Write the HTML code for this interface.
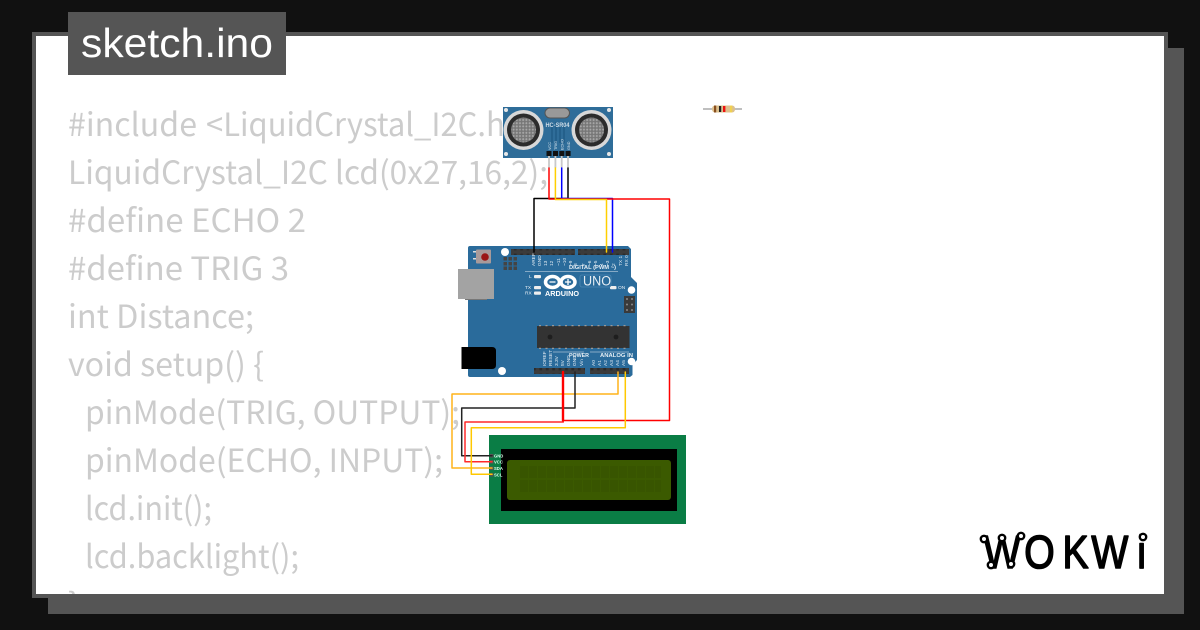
<!DOCTYPE html>
<html><head><meta charset="utf-8"><style>
html,body{margin:0;padding:0;background:#111;width:1200px;height:630px;overflow:hidden}
svg{display:block}
</style></head><body>
<svg xmlns="http://www.w3.org/2000/svg" width="1200" height="630" viewBox="0 0 1200 630">
<defs>
<clipPath id="panel"><rect x="36" y="36" width="1128" height="558"/></clipPath>
<pattern id="hdr" width="6.4" height="6" patternUnits="userSpaceOnUse"><rect width="6.4" height="6" fill="#3b3b3b"/><rect x="1.8" y="1.6" width="2.8" height="2.8" fill="#2a2a2a"/></pattern>
<pattern id="mesh" width="3.200" height="3.200" patternUnits="userSpaceOnUse"><rect width="3.200" height="3.200" fill="#777"/><circle cx="1.600" cy="1.600" r="1" fill="#a8a8a8"/></pattern>
</defs>
<rect width="1200" height="630" fill="#111"/>
<rect x="48" y="48" width="1136" height="566" fill="#555"/>
<rect x="32" y="32" width="1136" height="566" fill="#555"/>
<rect x="36" y="36" width="1128" height="558" fill="#fff"/>

<g clip-path="url(#panel)" font-family="'Noto Sans CJK JP','Liberation Sans',sans-serif" font-size="32" fill="#ccc">
<text x="68" y="136" textLength="129" lengthAdjust="spacingAndGlyphs">#include</text>
<text x="206" y="136" textLength="316" lengthAdjust="spacingAndGlyphs">&lt;LiquidCrystal_I2C.h&gt;</text>
<text x="68" y="184" textLength="480" lengthAdjust="spacingAndGlyphs">LiquidCrystal_I2C lcd(0x27,16,2);</text>
<text x="68" y="232" textLength="238" lengthAdjust="spacingAndGlyphs">#define ECHO 2</text>
<text x="68" y="280" textLength="221" lengthAdjust="spacingAndGlyphs">#define TRIG 3</text>
<text x="68" y="328" textLength="186" lengthAdjust="spacingAndGlyphs">int Distance;</text>
<text x="68" y="376" textLength="196" lengthAdjust="spacingAndGlyphs">void setup() {</text>
<text x="85" y="424" textLength="375" lengthAdjust="spacingAndGlyphs">pinMode(TRIG, OUTPUT);</text>
<text x="85" y="472" textLength="358" lengthAdjust="spacingAndGlyphs">pinMode(ECHO, INPUT);</text>
<text x="85" y="520" textLength="127" lengthAdjust="spacingAndGlyphs">lcd.init();</text>
<text x="85" y="568" textLength="214" lengthAdjust="spacingAndGlyphs">lcd.backlight();</text>
<text x="68" y="616">}</text>
</g>

<rect x="68" y="12" width="218" height="63" fill="#555"/>
<text x="81" y="57" font-family="'Liberation Sans',sans-serif" font-size="41" fill="#fff" textLength="192" lengthAdjust="spacingAndGlyphs">sketch.ino</text>

<!-- Resistor -->
<line x1="703" y1="109" x2="742" y2="109" stroke="#aaa" stroke-width="1.400"/>
<rect x="712" y="105.500" width="23" height="7" rx="3" fill="#dcc08e"/>
<rect x="714" y="105.500" width="2.200" height="7" fill="#8a4f1e"/>
<rect x="719" y="106" width="2.200" height="6" fill="#222"/>
<rect x="723" y="106" width="2.400" height="6" fill="#f01010"/>
<rect x="730" y="105.500" width="2.200" height="7" fill="#f0d050"/>

<!-- Ultrasonic sensor -->
<rect x="503" y="107" width="110" height="51" fill="#2f6d99"/>
<rect x="545" y="108" width="24.500" height="10" rx="5" fill="#999" stroke="#555" stroke-width="1"/>
<g fill="none" stroke="#1f5a85" stroke-width="1.400"><path d="M552 122V143"/><path d="M556 122V143"/><path d="M560 122V143"/><path d="M564 122V143"/></g>
<g>
<circle cx="523.500" cy="130" r="20" fill="#d8d8d8"/><circle cx="523.500" cy="130" r="16.500" fill="#2c2c2c"/><circle cx="523.500" cy="130" r="12.500" fill="url(#mesh)"/>
<circle cx="591.500" cy="130" r="20" fill="#d8d8d8"/><circle cx="591.500" cy="130" r="16.500" fill="#2c2c2c"/><circle cx="591.500" cy="130" r="12.500" fill="url(#mesh)"/>
</g>
<g fill="#e8e8e8"><circle cx="506" cy="110" r="2"/><circle cx="609" cy="110" r="2"/><circle cx="506" cy="154" r="2"/><circle cx="609" cy="154" r="2"/></g>
<text x="545.500" y="127" font-family="'Liberation Sans',sans-serif" font-size="6.500" font-weight="bold" fill="#cfdde8" textLength="24" lengthAdjust="spacingAndGlyphs">HC-SR04</text>
<g font-family="'Liberation Sans',sans-serif" font-size="3.800" fill="#dfe8ef">
<text transform="translate(551 150) rotate(-90)">VCC</text><text transform="translate(557 150) rotate(-90)">TRIG</text><text transform="translate(563.500 150) rotate(-90)">ECHO</text><text transform="translate(570 150) rotate(-90)">GND</text>
</g>
<rect x="546.500" y="151" width="5" height="5" fill="#111"/><rect x="553" y="151" width="5" height="5" fill="#111"/><rect x="559.300" y="151" width="5" height="5" fill="#111"/><rect x="565.600" y="151" width="5" height="5" fill="#111"/>
<g stroke="#c9c9c9" stroke-width="1.800"><path d="M549 156V168"/><path d="M555.400 156V168"/><path d="M561.700 156V168"/><path d="M568 156V168"/></g>

<!-- Arduino -->
<path d="M470 246H628L631 249V277L637 283V360L632.500 365V375L630 377H470Q468 377 468 375V248Q468 246 470 246Z" fill="#2a6b9b"/>
<rect x="458" y="269" width="36" height="30" fill="#a3a3a3"/><rect x="465" y="299" width="22" height="1" fill="#777"/>
<path d="M461.500 347H492Q496 347 496 351V365Q496 369 492 369H461.500Z" fill="#000"/>
<rect x="473" y="251" width="3" height="1.500" fill="#ddd"/><rect x="473" y="258" width="3" height="1.500" fill="#ddd"/>
<rect x="476" y="249.500" width="15" height="14" rx="1" fill="#a89a9a"/><circle cx="485" cy="257" r="3.800" fill="#9a1616"/>
<circle cx="505" cy="252" r="4" fill="#fff"/><circle cx="631.500" cy="290" r="3.800" fill="#fff"/><circle cx="502" cy="371" r="4" fill="#fff"/><circle cx="631.500" cy="361.500" r="3.800" fill="#fff"/>
<g fill="#444"><rect x="503.500" y="257" width="3.500" height="3.500"/><rect x="508.500" y="257" width="3.500" height="3.500"/><rect x="513.500" y="257" width="3.500" height="3.500"/><rect x="503.500" y="262" width="3.500" height="3.500"/><rect x="508.500" y="262" width="3.500" height="3.500"/><rect x="513.500" y="262" width="3.500" height="3.500"/><rect x="503.500" y="266.500" width="3.500" height="3.500"/><rect x="508.500" y="266.500" width="3.500" height="3.500"/><rect x="513.500" y="266.500" width="3.500" height="3.500"/></g>
<rect x="624" y="296" width="11" height="17" fill="#3a3a3a"/>
<g fill="#888"><circle cx="627" cy="299" r="1"/><circle cx="632" cy="299" r="1"/><circle cx="627" cy="304.500" r="1"/><circle cx="632" cy="304.500" r="1"/><circle cx="627" cy="310" r="1"/><circle cx="632" cy="310" r="1"/></g>
<rect x="511" y="249" width="64" height="6" fill="url(#hdr)"/><rect x="578" y="249" width="51" height="6" fill="url(#hdr)"/>
<rect x="534" y="368" width="51" height="6" fill="url(#hdr)"/><rect x="590" y="368" width="39" height="6" fill="url(#hdr)"/>
<rect x="537" y="326" width="92.500" height="22" fill="#333"/>
<g stroke="#999" stroke-width="1.200" stroke-dasharray="2 4.500" fill="none"><path d="M539 325.600H628"/><path d="M539 348.400H628"/></g>
<circle cx="550" cy="337" r="2.400" fill="#1e1e1e"/><circle cx="616" cy="337" r="2.400" fill="#1e1e1e"/>
<g font-family="'Liberation Sans',sans-serif" font-size="4.800" fill="#e6eef4">
<text transform="translate(535 266) rotate(-90)">AREF</text><text transform="translate(541 266) rotate(-90)">GND</text>
<text transform="translate(547 266) rotate(-90)">13</text><text transform="translate(553 266) rotate(-90)">12</text><text transform="translate(560 266) rotate(-90)">~11</text><text transform="translate(566 266) rotate(-90)">~10</text><text transform="translate(572 266) rotate(-90)">~9</text><text transform="translate(577 266) rotate(-90)">8</text>
<text transform="translate(585 266) rotate(-90)">7</text><text transform="translate(591 266) rotate(-90)">~6</text><text transform="translate(597 266) rotate(-90)">~5</text><text transform="translate(603 266) rotate(-90)">4</text><text transform="translate(609 266) rotate(-90)">~3</text><text transform="translate(615 266) rotate(-90)">2</text><text transform="translate(622 266) rotate(-90)">TX 1</text><text transform="translate(628 266) rotate(-90)">RX 0</text>
<text x="569" y="269" font-weight="bold" font-size="5" textLength="47" lengthAdjust="spacingAndGlyphs">DIGITAL (PWM ~)</text>
<text x="529" y="278">L</text><text x="525" y="289">TX</text><text x="525" y="294.500">RX</text><text x="618" y="289">ON</text>
<text transform="translate(546 366) rotate(-90)">IOREF</text><text transform="translate(552 366) rotate(-90)">RESET</text><text transform="translate(558 366) rotate(-90)">3.3V</text><text transform="translate(564 366) rotate(-90)">5V</text><text transform="translate(570 366) rotate(-90)">GND</text><text transform="translate(576 366) rotate(-90)">GND</text><text transform="translate(583 366) rotate(-90)">Vin</text>
<text transform="translate(595 366) rotate(-90)">A0</text><text transform="translate(601 366) rotate(-90)">A1</text><text transform="translate(607 366) rotate(-90)">A2</text><text transform="translate(613 366) rotate(-90)">A3</text><text transform="translate(619 366) rotate(-90)">A4</text><text transform="translate(625 366) rotate(-90)">A5</text>
<text x="569" y="357" font-weight="bold" font-size="5" textLength="20" lengthAdjust="spacingAndGlyphs">POWER</text>
<text x="600" y="357" font-weight="bold" font-size="5" textLength="33" lengthAdjust="spacingAndGlyphs">ANALOG IN</text>
</g>
<g stroke="#dfe8ef" stroke-width=".6" fill="none"><path d="M525 271.500H618"/><path d="M553 352H584"/><path d="M590 352H629"/></g>
<g fill="#eee"><rect x="534" y="275" width="7" height="3.200" rx="1"/><rect x="534" y="286" width="7" height="3.200" rx="1"/><rect x="534" y="291.500" width="7" height="3.200" rx="1"/><rect x="610" y="286" width="6.500" height="3.200" rx="1"/></g>
<g fill="none" stroke="#fff" stroke-width="3.500"><ellipse cx="552.500" cy="282" rx="7" ry="5.500"/><ellipse cx="568" cy="282" rx="7" ry="5.500"/></g>
<path d="M549.500 282h6M565 282h6M568 279v6" stroke="#fff" stroke-width="1.300"/>
<text x="545" y="296" font-family="'Liberation Sans',sans-serif" font-size="7" font-weight="bold" fill="#fff" textLength="34" lengthAdjust="spacingAndGlyphs">ARDUINO</text>
<rect x="580" y="275" width="31" height="12" rx="2" fill="none" stroke="#4c87b2" stroke-width=".8"/>
<text x="583" y="285.500" font-family="'Liberation Sans',sans-serif" font-size="13.500" fill="#e8eff5" textLength="28" lengthAdjust="spacingAndGlyphs">UNO</text>

<!-- LCD -->
<rect x="489" y="435" width="197" height="89" fill="#0a7d45"/>
<rect x="501" y="449" width="176" height="62" fill="#000"/>
<rect x="507" y="460" width="164" height="40" rx="3" fill="#3b5a00"/>
<g fill="#385500">
<path d="M520 466h8v12h-8zM529 466h8v12h-8zM538 466h8v12h-8zM547 466h8v12h-8zM556 466h8v12h-8zM565 466h8v12h-8zM574 466h8v12h-8zM583 466h8v12h-8zM592 466h8v12h-8zM601 466h8v12h-8zM610 466h8v12h-8zM619 466h8v12h-8zM628 466h8v12h-8zM637 466h8v12h-8zM646 466h8v12h-8zM655 466h6v12h-6z"/>
<path d="M520 480h8v12h-8zM529 480h8v12h-8zM538 480h8v12h-8zM547 480h8v12h-8zM556 480h8v12h-8zM565 480h8v12h-8zM574 480h8v12h-8zM583 480h8v12h-8zM592 480h8v12h-8zM601 480h8v12h-8zM610 480h8v12h-8zM619 480h8v12h-8zM628 480h8v12h-8zM637 480h8v12h-8zM646 480h8v12h-8zM655 480h6v12h-6z"/>
</g>
<g fill="#555"><rect x="490" y="454" width="3.500" height="3.500"/><rect x="490" y="460" width="3.500" height="3.500"/><rect x="490" y="466.500" width="3.500" height="3.500"/><rect x="490" y="473" width="3.500" height="3.500"/></g>
<g font-family="'Liberation Sans',sans-serif" font-size="4.200" fill="#dfe" font-weight="bold">
<text x="494" y="457.500">GND</text><text x="494" y="463.500">VCC</text><text x="494" y="470">SDA</text><text x="494" y="476.500">SCL</text>
</g>

<!-- Wires -->
<g fill="none" stroke-linejoin="round" stroke-linecap="round">
<path d="M568 168V198.500H534V252" stroke="#000" stroke-width="1.500"/>
<path d="M561.700 168V198.500H612.500V252" stroke="#0000ff" stroke-width="1.500"/>
<path d="M549 168V199H669.500V420.500H563.300" stroke="#ff0000" stroke-width="1.500"/>
<path d="M555.400 168V199.500H606.500V252" stroke="#ffcf00" stroke-width="1.500"/>
<path d="M618 372V394H452V468H492" stroke="#ffb31a" stroke-width="1.500"/>
<path d="M575 372V408H461.700V455.700H492" stroke="#222" stroke-width="1.500"/>
<path d="M563.300 422H465V461.700H492" stroke="#ff2a2a" stroke-width="1.500"/>
<path d="M625.300 372V427.700H471.300V474.300H492" stroke="#ffc800" stroke-width="1.500"/>
<path d="M563 372V420.500" stroke="#ff0000" stroke-width="2.400"/>
</g>

<!-- Logo -->
<g transform="scale(.85 1)">
<text y="568" x="1157 1205 1250 1284 1338" font-family="'Liberation Sans',sans-serif" font-size="46" fill="#000" stroke="#000" stroke-width="1.600" stroke-linejoin="round">WOKWi</text>
</g>
<g fill="#fff" stroke="#000" stroke-width="2.400">
<circle cx="984" cy="539" r="3.200"/><circle cx="1002" cy="538" r="3.200"/><circle cx="1021" cy="536" r="3.200"/><circle cx="991" cy="565" r="3.200"/><circle cx="1011" cy="564" r="3.200"/><circle cx="1143" cy="537" r="3.200"/>
</g>
</svg>
</body></html>
